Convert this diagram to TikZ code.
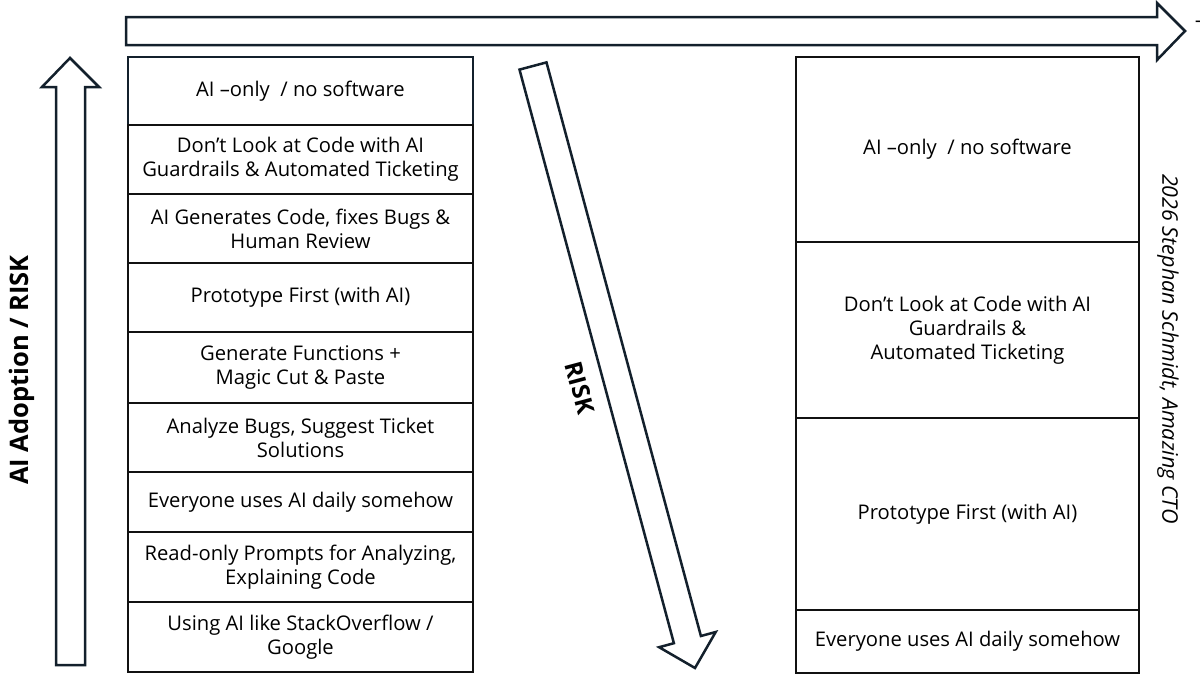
\documentclass[tikz,border=0pt]{standalone}
\usepackage{fontspec}
\setmainfont{Open Sans}
\definecolor{navy}{HTML}{13202C}
\definecolor{ink}{HTML}{111111}
\begin{document}
\begin{tikzpicture}[x=1pt,y=-1pt,
  box/.style={draw=ink,line width=2pt,anchor=north west,align=center,
    font=\fontsize{20.2}{24}\selectfont,inner sep=0pt},
  blockarrow/.style={draw=navy,line width=2.5pt,line join=miter,fill=white}]
\useasboundingbox[fill=white] (0,0) rectangle (1200,675);
% top arrow
\draw[blockarrow] (126,17) -- (1157,17) -- (1157,3) -- (1185,31) -- (1157,60) -- (1157,45) -- (126,45) -- cycle;
\node[anchor=base west,font=\fontsize{20.2}{24}\selectfont] (tcut) at (1192,35) {T};
% left up arrow
\draw[blockarrow] (56,665) -- (56,87) -- (42,87) -- (70,58) -- (99,87) -- (85,87) -- (85,665) -- cycle;
\node[rotate=90,font=\fontsize{25.5}{30}\selectfont\bfseries] (ylab) at (22,370) {AI Adoption / RISK};
% left column
\node[box,draw=navy,minimum width=345,minimum height=68] (l1) at (127,56) {AI –only\ \ / no software};
\node[box,minimum width=345,minimum height=69] (l2) at (127,124) {Don’t Look at Code with AI\\Guardrails \& Automated Ticketing};
\node[box,minimum width=345,minimum height=69] (l3) at (127,193) {AI Generates Code, fixes Bugs \&\\Human Review};
\node[box,minimum width=345,minimum height=69] (l4) at (127,262) {Prototype First (with AI)};
\node[box,minimum width=345,minimum height=71] (l5) at (127,331) {Generate Functions +\\Magic Cut \& Paste};
\node[box,minimum width=345,minimum height=69] (l6) at (127,402) {Analyze Bugs, Suggest Ticket\\Solutions};
\node[box,minimum width=345,minimum height=60] (l7) at (127,471) {Everyone uses AI daily somehow};
\node[box,minimum width=345,minimum height=70] (l8) at (127,531) {Read-only Prompts for Analyzing,\\Explaining Code};
\node[box,minimum width=345,minimum height=70] (l9) at (127,601) {Using AI like StackOverflow /\\Google};
% diagonal risk arrow
\draw[blockarrow] (519.5,69.6) -- (546.5,62.4) -- (700.9,636.0) -- (715.7,632.0) -- (695.0,668.0) -- (659.1,647.2) -- (673.9,643.2) -- cycle;
\node[rotate=-75,font=\fontsize{24}{28}\selectfont\bfseries] (risk) at (580,388) {RISK};
% right column
\node[box,minimum width=343,minimum height=185] (r1) at (795,56) {AI –only\ \ / no software};
\node[box,minimum width=343,minimum height=176] (r2) at (795,241) {Don’t Look at Code with AI\\Guardrails \&\\Automated Ticketing};
\node[box,minimum width=343,minimum height=192] (r3) at (795,417) {Prototype First (with AI)};
\node[box,minimum width=343,minimum height=63] (r4) at (795,609) {Everyone uses AI daily somehow};
% credit
\node[rotate=-90,font=\fontsize{21.5}{26}\selectfont\itshape] (credit) at (1168,349) {2026 Stephan Schmidt, Amazing CTO};
\end{tikzpicture}
\end{document}
